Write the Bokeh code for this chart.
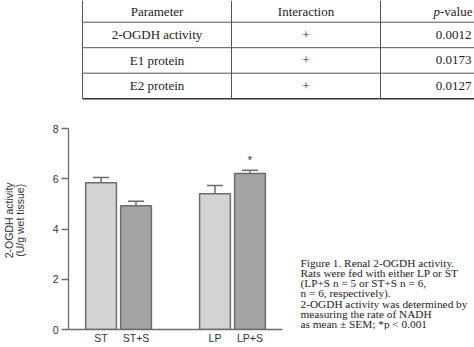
import math
from bokeh.plotting import figure
from bokeh.layouts import column, row
from bokeh.models import (ColumnDataSource, FactorRange, Range1d, FixedTicker,
                          Whisker, TeeHead)
from bokeh.core.properties import value
from bokeh.embed import file_html
from bokeh.resources import INLINE

# ---------------- data ----------------
groups = ["ST", "ST", "LP", "LP"]
categories = ["ST", "ST+S", "LP", "LP+S"]
means = [5.84, 4.93, 5.40, 6.21]
sems = [0.21, 0.17, 0.33, 0.13]
significant = [False, False, False, True]

table_header = ["Parameter", "Interaction", "p-value"]
table_params = ["2-OGDH activity", "E1 protein", "E2 protein"]
table_interaction = ["+", "+", "+"]
table_pvalues = ["0.0012", "0.0173", "0.0127"]

y_ticks = [0, 2, 4, 6, 8]
y_label_lines = ["2-OGDH activity", "(U/g wet tissue)"]

caption_lines = [
    "Figure 1. Renal 2-OGDH activity.",
    "Rats were fed with either LP or ST",
    "(LP+S n = 5 or ST+S n = 6,",
    "n = 6, respectively).",
    "2-OGDH activity was determined by",
    "measuring the rate of NADH",
    "as mean \u00b1 SEM; *p < 0.001",
]

SERIF = "Liberation Serif"
SANS = "Liberation Sans"
TXT = "#222222"


def blank(fig):
    fig.axis.visible = False
    fig.grid.visible = False
    fig.outline_line_color = None
    fig.background_fill_color = "white"
    fig.border_fill_color = "white"


def bare_figure(w, h, xr, yr):
    f = figure(width=w, height=h, x_range=xr, y_range=yr,
               output_backend="svg", toolbar_location=None,
               min_border=0, min_border_left=0, min_border_right=0,
               min_border_top=0, min_border_bottom=0)
    blank(f)
    return f


# ---------------- table ----------------
TW, TH = 474, 104
tab = bare_figure(TW, TH, Range1d(0, TW), Range1d(TH, 0))
col_edges = [82, 231, 380, 530]
row_edges = [-2, 21.7, 47.2, 72.7, 98.2]
col_centers = [(col_edges[i] + col_edges[i + 1]) / 2 for i in range(3)]
col_centers[2] = 453
row_centers = [(row_edges[i] + row_edges[i + 1]) / 2 for i in range(4)]
row_centers[0] = 10.5

tab.segment(x0=[col_edges[0]] * 3, x1=[TW] * 3, y0=row_edges[1:4], y1=row_edges[1:4],
            line_color="#555555", line_width=1)
tab.segment(x0=[col_edges[0]], x1=[TW], y0=[row_edges[4]], y1=[row_edges[4]],
            line_color="#333333", line_width=1.6)
tab.segment(x0=col_edges[:3], x1=col_edges[:3], y0=[0] * 3, y1=[row_edges[4]] * 3,
            line_color="#555555", line_width=1)

tab.text(x=col_centers[:2], y=[row_centers[0]] * 2, text=table_header[:2],
         text_align="center", text_baseline="middle", text_font=value(SERIF),
         text_font_size="13px", text_color=TXT)
tab.text(x=[433], y=[row_centers[0]], text=["p"], text_align="left",
         text_baseline="middle", text_font=value(SERIF), text_font_style="italic",
         text_font_size="13px", text_color=TXT)
tab.text(x=[439.5], y=[row_centers[0]], text=["-value"], text_align="left",
         text_baseline="middle", text_font=value(SERIF),
         text_font_size="13px", text_color=TXT)
for ci, vals in enumerate([table_params, table_interaction, table_pvalues]):
    tab.text(x=[col_centers[ci]] * 3, y=row_centers[1:], text=vals,
             text_align="center", text_baseline="middle", text_font=value(SERIF),
             text_font_size="13px", text_color=TXT)

# ---------------- y-axis title strip ----------------
CH = 243
LW = 30
ylab = bare_figure(LW, CH, Range1d(0, LW), Range1d(0, CH))
ylab.text(x=[8, 19], y=[132, 132], text=y_label_lines, angle=math.pi / 2,
          text_align="center", text_baseline="middle", text_font=value(SANS),
          text_font_size="10.5px", text_color="#333333")

# ---------------- chart ----------------
CW = 284 - LW
factors = list(zip(groups, categories))
x_range = FactorRange(factors=factors, group_padding=1.257, range_padding=0.43,
                      range_padding_units="absolute")
p = figure(width=CW, height=CH, x_range=x_range, y_range=Range1d(0, 8),
           output_backend="svg", toolbar_location=None,
           min_border_left=68 - LW, min_border_right=2, min_border_top=24,
           min_border_bottom=18)
p.grid.visible = False
p.outline_line_color = None
p.background_fill_color = "white"
p.border_fill_color = "white"

upper = [m + s for m, s in zip(means, sems)]
src = ColumnDataSource(dict(x=factors, top=means, upper=upper,
                            fill=["#d4d4d4", "#a4a4a4", "#d4d4d4", "#a4a4a4"]))
p.vbar(x="x", top="top", bottom=0, width=0.88, source=src, fill_color="fill",
       line_color="#6c6c6c", line_width=1.5)
p.add_layout(Whisker(base="x", upper="upper", lower="top", source=src,
                     line_color="#6c6c6c", line_width=1.5,
                     upper_head=TeeHead(size=16, line_color="#6c6c6c", line_width=1.5),
                     lower_head=None))
star_x = [f for f, s in zip(factors, significant) if s]
star_y = [u + 0.42 for u, s in zip(upper, significant) if s]
p.text(x=star_x, y=star_y, text=["*"] * len(star_x), text_align="center",
       text_baseline="middle", text_font=value(SANS), text_font_size="11px",
       text_color="#333333")

ya = p.yaxis[0]
ya.ticker = FixedTicker(ticks=y_ticks)
ya.major_tick_out = 7
ya.major_tick_in = 0
ya.minor_tick_line_color = None
ya.axis_line_color = "#6c6c6c"
ya.axis_line_width = 1.3
ya.major_tick_line_color = "#6c6c6c"
ya.major_tick_line_width = 1.3
ya.major_label_standoff = 3
ya.major_label_text_font = SANS
ya.major_label_text_font_size = "10.5px"
ya.major_label_text_color = "#333333"

xa = p.xaxis[0]
xa.axis_line_color = "#6c6c6c"
xa.axis_line_width = 1.3
xa.major_tick_line_color = None
xa.major_tick_out = 0
xa.major_label_standoff = 2
xa.major_label_text_font = SANS
xa.major_label_text_font_size = "10.5px"
xa.major_label_text_color = "#333333"
xa.group_text_font_size = "0px"
xa.group_text_color = None
xa.separator_line_color = None

# ---------------- caption ----------------
PW = TW - 284
cap = bare_figure(PW, CH, Range1d(0, PW), Range1d(CH, 0))
line_y = [162 + 12.4 * i for i in range(len(caption_lines))]
cap.text(x=[16] * len(caption_lines), y=line_y, text=caption_lines,
         text_align="left", text_baseline="middle", text_font=value(SERIF),
         text_font_size="11.3px", text_color=TXT)

layout = column(tab, row(ylab, p, cap, spacing=0), spacing=0)
open("out.html", "w").write(file_html(layout, INLINE))
